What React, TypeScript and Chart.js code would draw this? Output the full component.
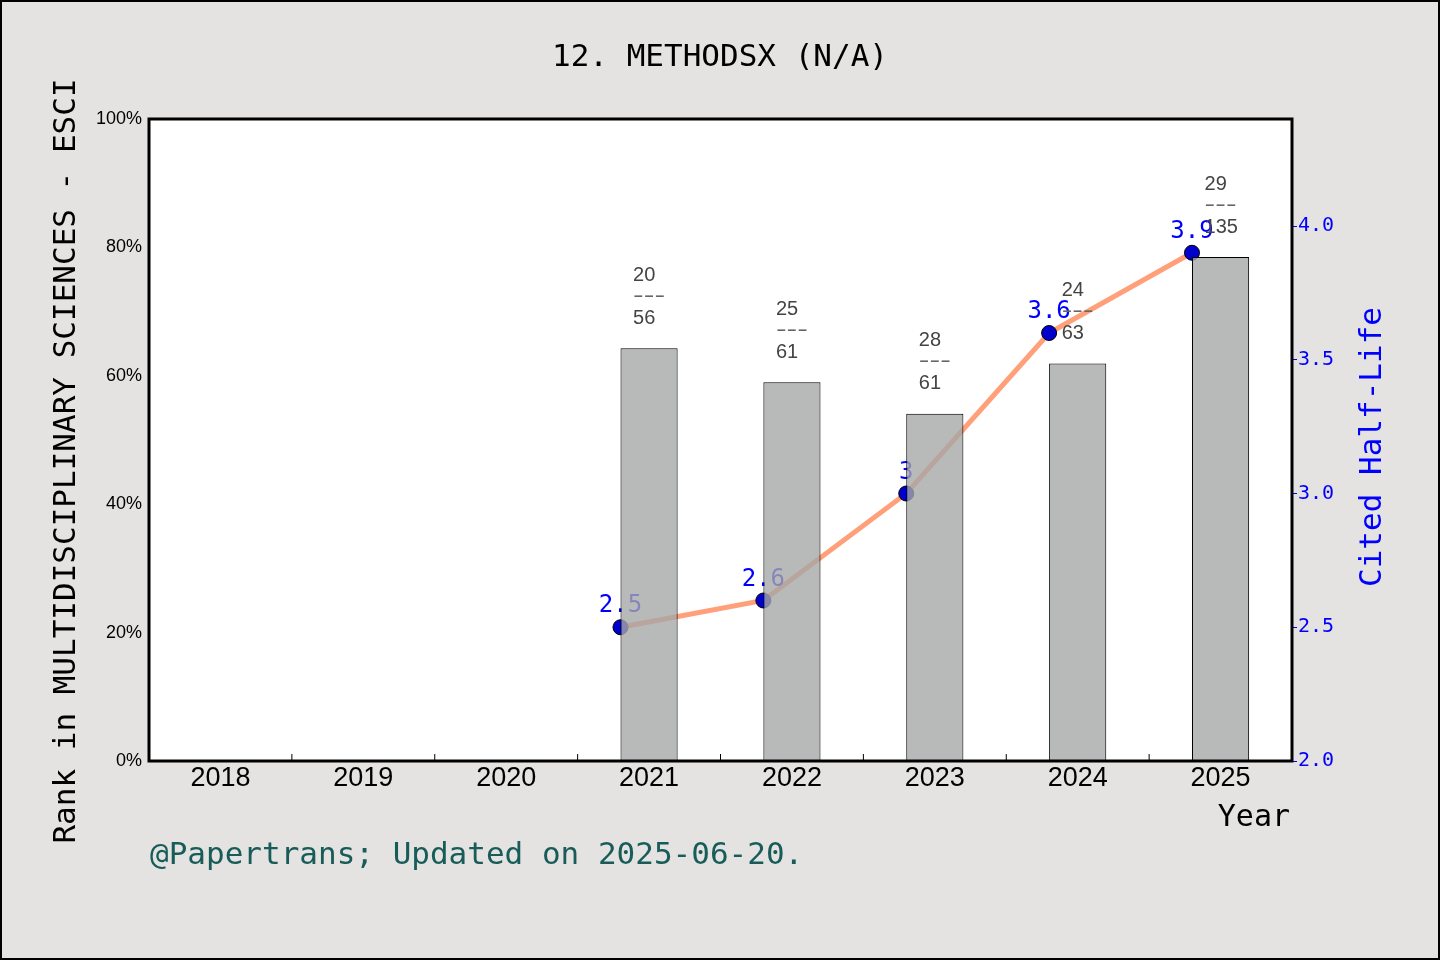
import React, { useEffect, useRef } from "react";
import { Chart, registerables } from "chart.js";

Chart.register(...registerables);

const years = ["2018", "2019", "2020", "2021", "2022", "2023", "2024", "2025"];
const rankPercent: (number | null)[] = [null, null, null, 64.3, 59.0, 54.1, 61.9, 78.5];
const rankPos: (number | null)[] = [null, null, null, 20, 25, 28, 24, 29];
const rankTotal: (number | null)[] = [null, null, null, 56, 61, 61, 63, 135];
const halfLife: (number | null)[] = [null, null, null, 2.5, 2.6, 3.0, 3.6, 3.9];
const halfLifeLabels: (string | null)[] = [null, null, null, "2.5", "2.6", "3", "3.6", "3.9"];
const leftTicks = [0, 20, 40, 60, 80, 100];
const rightTicks = [2.0, 2.5, 3.0, 3.5, 4.0];

const TITLE = "12. METHODSX (N/A)";
const LEFT_TITLE = "Rank in MULTIDISCIPLINARY SCIENCES - ESCI";
const RIGHT_TITLE = "Cited Half-Life";
const X_TITLE = "Year";
const FOOTER = "@Papertrans; Updated on 2025-06-20.";

const BAR_PCT = 0.4;
const MONO = "'DejaVu Sans Mono', monospace";
const SANS = "'Liberation Sans', Arial, sans-serif";

export default function App() {
  const ref = useRef<HTMLCanvasElement | null>(null);

  useEffect(() => {
    const canvas = ref.current;
    if (!canvas) return;

    const lineData = years
      .map((_, i) => (halfLife[i] == null ? null : { x: i - BAR_PCT / 2, y: halfLife[i] as number }))
      .filter((p) => p !== null) as { x: number; y: number }[];
    const lineLabels = halfLifeLabels.filter((l) => l !== null) as string[];

    const decor = {
      id: "decor",
      beforeDraw(chart: any) {
        const { ctx, chartArea } = chart;
        ctx.save();
        ctx.fillStyle = "#e4e3e1";
        ctx.fillRect(0, 0, chart.width, chart.height);
        ctx.fillStyle = "#ffffff";
        ctx.fillRect(chartArea.left, chartArea.top, chartArea.right - chartArea.left, chartArea.bottom - chartArea.top);
        ctx.restore();
      },
      afterDatasetDraw(chart: any, args: any) {
        if (args.index !== 1) return;
        const { ctx } = chart;
        const meta = chart.getDatasetMeta(1);
        ctx.save();
        ctx.font = `24px ${MONO}`;
        ctx.fillStyle = "#0000ff";
        ctx.textAlign = "center";
        ctx.textBaseline = "alphabetic";
        meta.data.forEach((pt: any, i: number) => {
          ctx.fillText(lineLabels[i], pt.x, pt.y - 15);
        });
        ctx.restore();
      },
      afterDatasetsDraw(chart: any) {
        const { ctx, chartArea } = chart;
        const xs = chart.scales.x;
        ctx.save();
        ctx.strokeStyle = "#000";
        ctx.lineWidth = 1;
        for (let i = 1; i < years.length; i++) {
          const px = (xs.getPixelForValue(i - 1) + xs.getPixelForValue(i)) / 2;
          ctx.beginPath();
          ctx.moveTo(px, chartArea.bottom);
          ctx.lineTo(px, chartArea.bottom - 7);
          ctx.stroke();
        }
        ctx.lineWidth = 3;
        ctx.strokeRect(chartArea.left, chartArea.top, chartArea.right - chartArea.left, chartArea.bottom - chartArea.top);

        const meta = chart.getDatasetMeta(0);
        ctx.textBaseline = "middle";
        ctx.textAlign = "left";
        meta.data.forEach((bar: any, i: number) => {
          if (rankPos[i] == null) return;
          const top = bar.y;
          ctx.font = `20px ${SANS}`;
          const stretch = 1.6;
          const w = ctx.measureText("---").width * stretch;
          const left = bar.x - w / 2;
          ctx.save();
          ctx.translate(left, top - 52);
          ctx.scale(stretch, 1);
          ctx.fillStyle = "#666";
          ctx.fillText("---", 0, 0);
          ctx.restore();
          ctx.fillStyle = "#444";
          ctx.fillText(String(rankPos[i]), left, top - 73);
          ctx.fillText(String(rankTotal[i]), left, top - 30);
        });
        ctx.restore();
      },
      afterDraw(chart: any) {
        const { ctx } = chart;
        ctx.save();
        ctx.fillStyle = "#000";
        ctx.textBaseline = "middle";
        ctx.textAlign = "center";
        ctx.font = `31px ${MONO}`;
        ctx.fillText(TITLE, 720, 58);

        ctx.save();
        ctx.translate(67, 461);
        ctx.rotate(-Math.PI / 2);
        ctx.fillText(LEFT_TITLE, 0, 0);
        ctx.restore();

        ctx.save();
        ctx.translate(1373, 447);
        ctx.rotate(-Math.PI / 2);
        ctx.fillStyle = "#0000ff";
        ctx.fillText(RIGHT_TITLE, 0, 0);
        ctx.restore();

        ctx.font = `30px ${MONO}`;
        ctx.textAlign = "right";
        ctx.fillText(X_TITLE, 1290, 818);

        ctx.font = `31px ${MONO}`;
        ctx.textAlign = "left";
        ctx.fillStyle = "#175c58";
        ctx.fillText(FOOTER, 150, 856);

        ctx.strokeStyle = "#000";
        ctx.lineWidth = 2;
        ctx.strokeRect(1, 1, chart.width - 2, chart.height - 2);
        ctx.restore();
      },
    };

    const chart = new Chart(canvas, {
      type: "bar",
      data: {
        labels: years,
        datasets: [
          {
            type: "bar",
            data: rankPercent as any,
            backgroundColor: "rgba(166,167,168,0.8)",
            borderColor: "#000",
            borderWidth: 1,
            barPercentage: BAR_PCT,
            categoryPercentage: 1,
            grouped: false,
            yAxisID: "y",
            xAxisID: "x",
            order: 1,
          },
          {
            type: "line",
            data: lineData as any,
            borderColor: "#ffa07a",
            borderWidth: 5,
            pointRadius: 7.5,
            pointBackgroundColor: "#0000cd",
            pointBorderColor: "#000",
            pointBorderWidth: 1,
            yAxisID: "y1",
            xAxisID: "xl",
            order: 2,
            tension: 0,
          } as any,
        ],
      },
      options: {
        responsive: false,
        animation: false,
        events: [],
        layout: { padding: { top: 119, left: 0, right: 0, bottom: 0 } },
        plugins: { legend: { display: false }, title: { display: false }, tooltip: { enabled: false } },
        scales: {
          x: {
            type: "category",
            offset: true,
            grid: { display: false, drawTicks: false },
            border: { display: false },
            ticks: { color: "#000", font: { family: SANS, size: 27 }, padding: 1, maxRotation: 0 },
            afterFit: (s: any) => {
              s.height = 199;
            },
          },
          xl: {
            type: "linear",
            display: false,
            offset: false,
            grace: 0,
            bounds: "data",
            min: -0.5,
            max: years.length - 0.5,
          },
          y: {
            position: "left",
            min: 0,
            max: 100,
            grid: { display: false, drawTicks: false },
            border: { display: false },
            afterBuildTicks: (s: any) => {
              s.ticks = leftTicks.map((v) => ({ value: v }));
            },
            ticks: {
              color: "#000",
              font: { family: SANS, size: 18 },
              padding: 7,
              callback: (v: any) => `${v}%`,
            },
            afterFit: (s: any) => {
              s.width = 149;
            },
          },
          y1: {
            position: "right",
            min: 2.0,
            max: 4.4,
            grid: { drawOnChartArea: false, drawTicks: true, tickLength: 5, color: "#0000ff" },
            border: { display: false },
            afterBuildTicks: (s: any) => {
              s.ticks = rightTicks.map((v) => ({ value: v }));
            },
            ticks: {
              color: "#0000ff",
              font: { family: MONO, size: 20 },
              padding: 1,
              callback: (v: any) => Number(v).toFixed(1),
            },
            afterFit: (s: any) => {
              s.width = 148;
            },
          },
        },
      } as any,
      plugins: [decor],
    });

    return () => chart.destroy();
  }, []);

  return (
    <div style={{ position: "fixed", left: 0, top: 0, width: 1440, height: 960 }}>
      <canvas ref={ref} width={1440} height={960} style={{ display: "block" }} />
    </div>
  );
}
